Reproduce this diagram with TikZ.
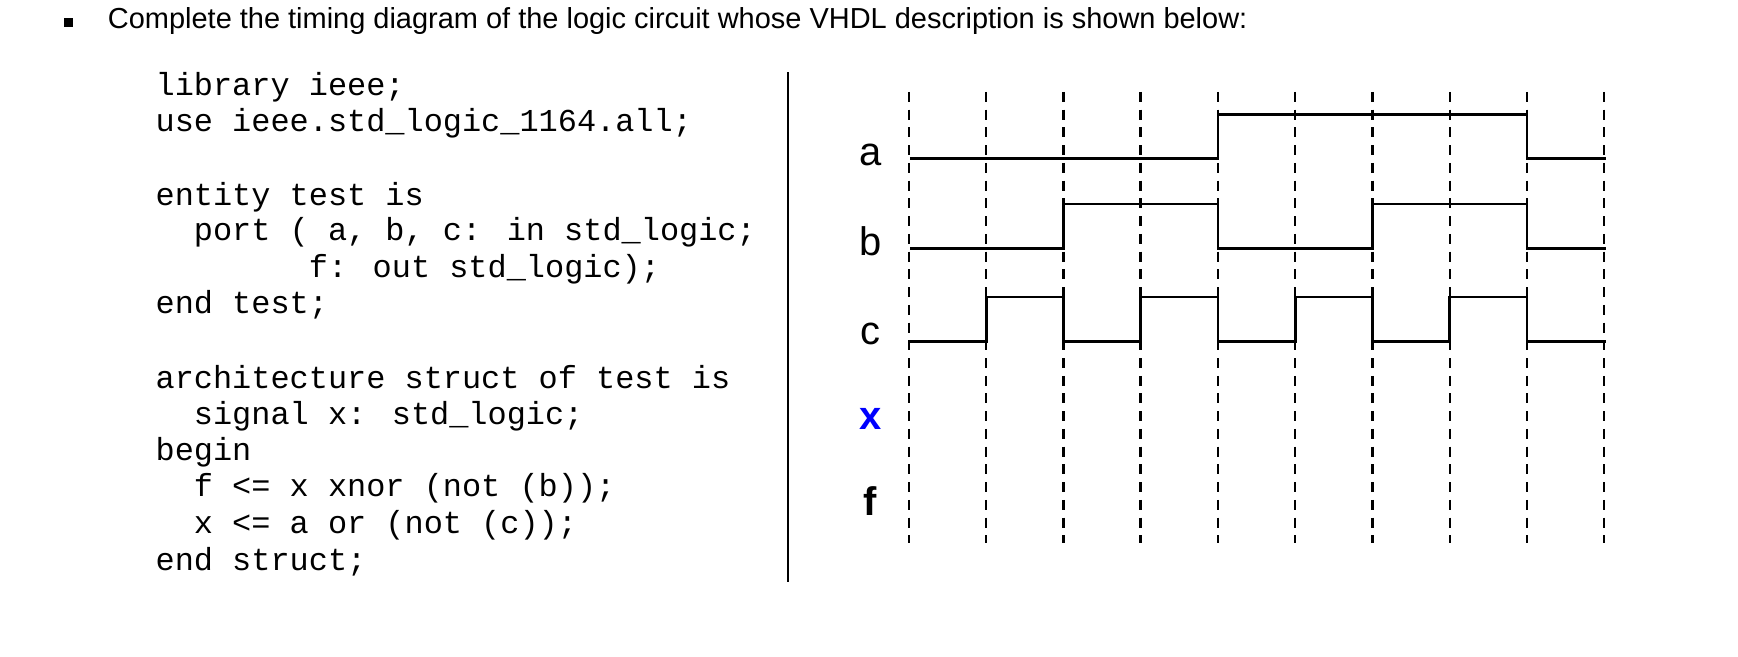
\documentclass[tikz,border=0pt]{standalone}
\usepackage{fontspec}
\setmainfont{Liberation Sans}
\newfontfamily\codefont{Liberation Mono}
\begin{document}
\begin{tikzpicture}[x=0.5pt,y=-0.5pt,
  wave/.style={line width=1.3pt,line cap=rect},
  grid/.style={line width=1.1pt,dash pattern=on 4.5pt off 3.5pt},
  code/.style={anchor=mid west,inner sep=0pt,font=\codefont\fontsize{14.4}{16}\selectfont},
  sig/.style={anchor=center,inner sep=0pt,font=\fontsize{18}{20}\selectfont}]
\useasboundingbox (0,0) rectangle (1568,592);
\fill (58,16) rectangle (66,24);
\node[anchor=mid west,inner sep=0pt] (title) at (97,20) {\resizebox{514pt}{!}{\fontsize{12.6}{14}\selectfont Complete the timing diagram of the logic circuit whose VHDL description is shown below:}};
\foreach \t/\yy [count=\i] in {{library ieee;}/81,{use ieee.std\_logic\_1164.all;}/113,{entity test is}/180,{\ \ port ( a, b, c: in std\_logic;}/212,{\ \ \ \ \ \ \ \ f: out std\_logic);}/245,{end test;}/278,{architecture struct of test is}/345,{\ \ signal x: std\_logic;}/378,{begin}/410,{\ \ f <= x xnor (not (b));}/443,{\ \ x <= a or (not (c));}/476,{end struct;}/509}
  \node[code] (l\i) at (140,\yy) {\t};
\draw[line width=1pt] (711,65) -- (711,525);
\foreach \xx [count=\i] in {820,889.7,959.4,1029.1,1098.8,1168.5,1238.2,1307.9,1377.6,1447.3}
  \draw[grid] (\xx,83) -- (\xx,490);
\node[sig] (la) at (785,140) {a};
\node[sig] (lb) at (785,218) {b};
\node[sig] (lc) at (785,301) {c};
\node[sig,text=blue,font=\bfseries\fontsize{18}{20}\selectfont] (lx) at (785,378) {x};
\node[sig,font=\bfseries\fontsize{18}{20}\selectfont] (lf) at (785,452) {f};
\draw[wave] (822,143) -- (1098.8,143) -- (1098.8,103) -- (1377.6,103) -- (1377.6,143) -- (1447.3,143);
\draw[wave] (822,224) -- (959.4,224) -- (959.4,184) -- (1098.8,184) -- (1098.8,224) -- (1238.2,224) -- (1238.2,184) -- (1377.6,184) -- (1377.6,224) -- (1447.3,224);
\draw[wave] (822,308) -- (889.7,308) -- (889.7,268) -- (959.4,268) -- (959.4,308) -- (1029.1,308) -- (1029.1,268) -- (1098.8,268) -- (1098.8,308) -- (1168.5,308) -- (1168.5,268) -- (1238.2,268) -- (1238.2,308) -- (1307.9,308) -- (1307.9,268) -- (1377.6,268) -- (1377.6,308) -- (1447.3,308);
\end{tikzpicture}
\end{document}
